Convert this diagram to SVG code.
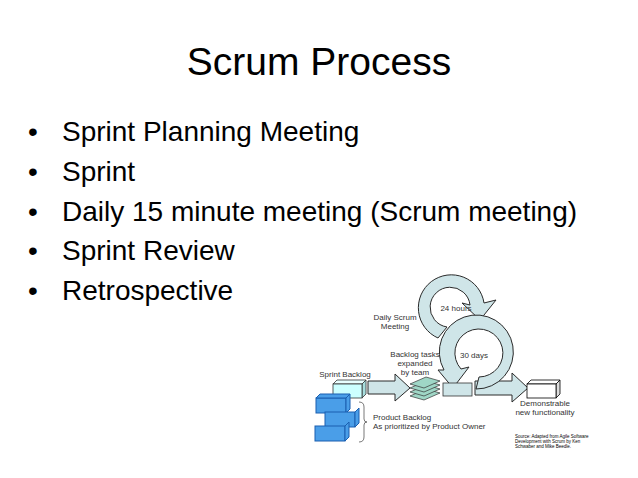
<svg xmlns="http://www.w3.org/2000/svg" width="638" height="478" viewBox="0 0 638 478">
<style>
.t{font-family:"Liberation Sans",Arial,sans-serif;fill:#000}
.b{font-size:28px}
.s{font-family:"Liberation Sans",Arial,sans-serif;font-size:8px;fill:#333}
.ring{fill:#cfe5e8;stroke:#2a2a2a;stroke-width:1}
.arr{fill:#cfe5e8;stroke:#2a2a2a;stroke-width:1}
.blue{fill:#4a9ee8;stroke:#1a5fb0;stroke-width:1}
</style>
<rect width="638" height="478" fill="#fff"/>
<g id="title"><text class="t" x="319" y="75" font-size="39" text-anchor="middle">Scrum Process</text></g>
<g id="bullets" class="t b">
<text x="28" y="141">•</text><text x="62" y="141">Sprint Planning Meeting</text>
<text x="28" y="181">•</text><text x="62" y="181">Sprint</text>
<text x="28" y="221">•</text><text x="62" y="221">Daily 15 minute meeting (Scrum meeting)</text>
<text x="28" y="260">•</text><text x="62" y="260">Sprint Review</text>
<text x="28" y="300">•</text><text x="62" y="300">Retrospective</text>
</g>
<g id="connectors">
<path class="arr" d="M368,381 H395 V374 L410,388 L395,401 V394 H368 Z"/>
<path class="arr" d="M475,381 H512 V373 L528,388 L512,402 V395 H475 Z"/>
</g>
<g id="ring24">
<path class="ring" d="M470,305 A20,20 0 1 0 447,327 L438,338 A33,33 0 1 1 484,303 L496,300 L480,320 L462,303 Z"/>
</g>
<g id="ring30">
<path class="ring" d="M476,389 A37,37 0 1 0 444,370 L438,370 L453,388 L469,367 L461,369 A24,24 0 1 1 479,377 Z"/>
</g>
<g id="sprint-backlog">
<path d="M333,384 L337,380 H366 L362,384 Z" fill="#e8ffff" stroke="#333" stroke-width="0.8"/>
<path d="M362,384 L366,380 V394 L362,398 Z" fill="#a8dede" stroke="#333" stroke-width="0.8"/>
<rect x="333" y="384" width="29" height="14" fill="#ccffff" stroke="#333" stroke-width="0.8"/>
<text class="s" x="345" y="377" text-anchor="middle">Sprint Backlog</text>
</g>
<g id="tasks" fill="#9fd6c6" stroke="#333" stroke-width="0.7">
<path d="M410,396 L424,400 L440,393 L426,389 Z"/>
<path d="M410,392 L424,396 L440,389 L426,385 Z"/>
<path d="M410,388 L424,392 L440,385 L426,381 Z"/>
<path d="M410,384 L424,388 L440,381 L426,377 Z"/>
</g>
<g id="backlog-tasks-label"><text class="s" x="415" y="357" text-anchor="middle">Backlog tasks</text><text class="s" x="415" y="366" text-anchor="middle">expanded</text><text class="s" x="415" y="375" text-anchor="middle">by team</text></g>
<g id="sprint-box"><rect x="443" y="383" width="29" height="13" fill="#cfe5e8" stroke="#333" stroke-width="0.8"/></g>
<g id="daily-label"><text class="s" x="395" y="320" text-anchor="middle">Daily Scrum</text><text class="s" x="395" y="329" text-anchor="middle">Meeting</text></g>
<text class="s" x="456" y="311" text-anchor="middle">24 hours</text>
<text class="s" x="474" y="358" text-anchor="middle">30 days</text>
<g id="demo">
<path d="M527,384 L531,380 H560 L556,384 Z" fill="#fff" stroke="#000" stroke-width="0.8"/>
<path d="M556,384 L560,380 V394 L556,398 Z" fill="#ddd" stroke="#000" stroke-width="0.8"/>
<rect x="527" y="384" width="29" height="14" fill="#fff" stroke="#000" stroke-width="0.8"/>
<text class="s" x="545" y="406" text-anchor="middle">Demonstrable</text>
<text class="s" x="545" y="415" text-anchor="middle">new functionality</text>
</g>
<g id="product-backlog">
<rect class="blue" x="316" y="398" width="30" height="15"/><path class="blue" d="M346,398 L350,394 V409 L346,413 Z"/><path class="blue" d="M316,398 L320,394 H350 L346,398 Z"/>
<rect class="blue" x="325" y="412" width="30" height="15"/><path class="blue" d="M355,412 L359,408 V423 L355,427 Z"/>
<rect class="blue" x="315" y="426" width="30" height="15"/><path class="blue" d="M345,426 L349,422 V437 L345,441 Z"/>
<path d="M359,402 Q364,402 364,407 V419 Q364,422 367,422 Q364,422 364,425 V437 Q364,442 359,442" fill="none" stroke="#555" stroke-width="0.8"/>
<text class="s" x="373" y="420">Product Backlog</text>
<text class="s" x="373" y="429">As prioritized by Product Owner</text>
</g>
<g id="source" font-family="Liberation Sans,Arial,sans-serif" font-size="4.5" fill="#000">
<text x="515" y="438">Source: Adapted from Agile Software</text>
<text x="515" y="443">Development with Scrum by Ken</text>
<text x="515" y="448">Schwaber and Mike Beedle.</text>
</g>
</svg>
